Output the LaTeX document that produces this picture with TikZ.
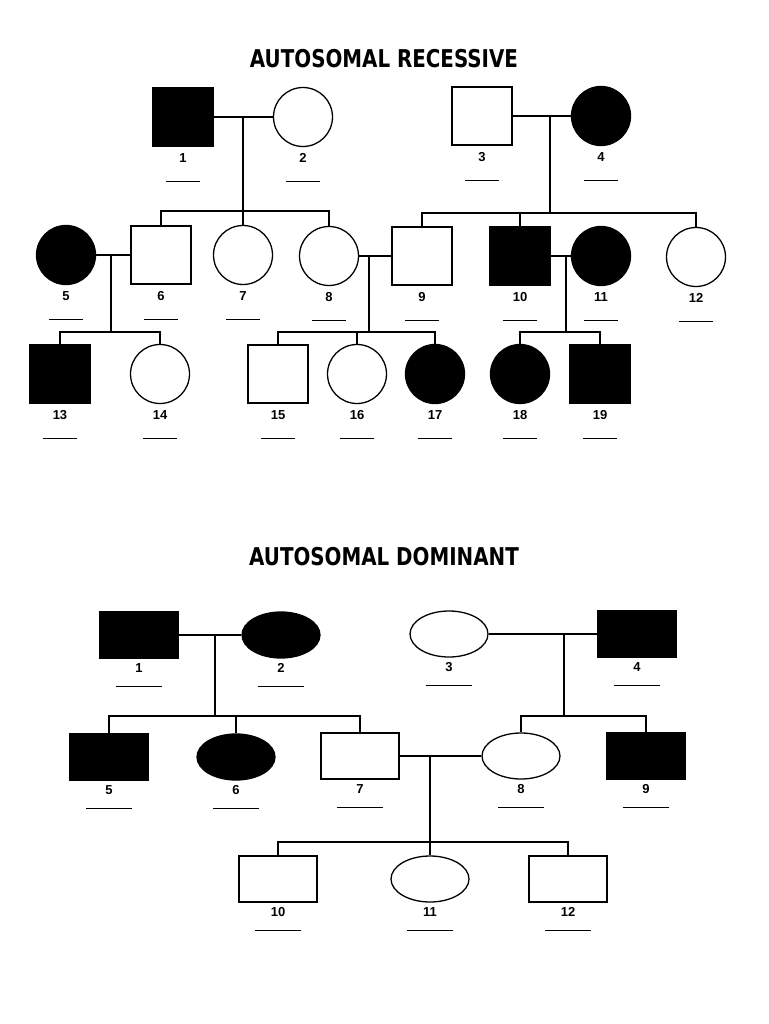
\documentclass[tikz,border=0pt]{standalone}
\usepackage{fontspec}
\setmainfont{Liberation Sans}
\newfontfamily\titlefont{DejaVu Sans}
\usetikzlibrary{shapes.geometric}

\begin{document}
\begin{tikzpicture}[
    x=1pt, y=-1pt,
    line width=1.3pt,
    every node/.style={text=black},
    male/.style={rectangle, draw, minimum width=60pt, minimum height=58pt, inner sep=0pt},
    female/.style={circle, draw, minimum size=59pt, inner sep=0pt},
    dmale/.style={rectangle, draw, minimum width=78pt, minimum height=46pt, inner sep=0pt},
    dfemale/.style={ellipse, draw, minimum width=78pt, minimum height=46pt, inner sep=0pt},
    num/.style={font=\bfseries\fontsize{13}{15}\selectfont, inner sep=0pt},
    blank/.style={line width=0.9pt},
    heading/.style={font=\titlefont\bfseries\fontsize{24.5}{28}\selectfont, xscale=0.81}
]
    \useasboundingbox (0,0) rectangle (768,1024);

    % ==========================
    % TOP: autosomal recessive
    % ==========================
    \node[heading] (titleR) at (384,59) {AUTOSOMAL RECESSIVE};

    \foreach \n/\px/\py/\sh/\fc in {
        1/183/117/male/black,
        2/303/117/female/white,
        3/482/116/male/white,
        4/601/116/female/black,
        5/66/255/female/black,
        6/161/255/male/white,
        7/243/255/female/white,
        8/329/256/female/white,
        9/422/256/male/white,
        10/520/256/male/black,
        11/601/256/female/black,
        12/696/257/female/white,
        13/60/374/male/black,
        14/160/374/female/white,
        15/278/374/male/white,
        16/357/374/female/white,
        17/435/374/female/black,
        18/520/374/female/black,
        19/600/374/male/black}
    {
        \node[\sh, fill=\fc] (R\n) at (\px,\py) {};
        \node[num] (RL\n) at ([yshift=-41pt]R\n.center) {\n};
        \draw[blank] ([xshift=-17pt,yshift=-23pt]RL\n.center) -- ++(34pt,0);
    }

    % couples and sibships
    \coordinate (mR12) at (243,117);
    \coordinate (sR12) at (243,211);
    \coordinate (mR34) at (550,116);
    \coordinate (sR34) at (550,213);
    \coordinate (mR56) at (111,255);
    \coordinate (sR56) at (111,332);
    \coordinate (mR89) at (369,256);
    \coordinate (sR89) at (369,332);
    \coordinate (mR1011) at (566,256);
    \coordinate (sR1011) at (566,332);

    \draw (R1) -- (R2);
    \draw (mR12) -- (sR12);
    \draw (R6.north) |- (sR12) -| (R8.north);
    \draw (R7.north) -- (R7.north |- sR12);

    \draw (R3) -- (R4);
    \draw (mR34) -- (sR34);
    \draw (R9.north) |- (sR34) -| (R12.north);
    \draw (R10.north) -- (R10.north |- sR34);

    \draw (R5) -- (R6);
    \draw (mR56) -- (sR56);
    \draw (R13.north) |- (sR56) -| (R14.north);

    \draw (R8) -- (R9);
    \draw (mR89) -- (sR89);
    \draw (R15.north) |- (sR89) -| (R17.north);
    \draw (R16.north) -- (R16.north |- sR89);

    \draw (R10) -- (R11);
    \draw (mR1011) -- (sR1011);
    \draw (R18.north) |- (sR1011) -| (R19.north);

    % ==========================
    % BOTTOM: autosomal dominant
    % ==========================
    \node[heading] (titleD) at (384,557) {AUTOSOMAL DOMINANT};

    \foreach \n/\px/\py/\sh/\fc in {
        1/139/635/dmale/black,
        2/281/635/dfemale/black,
        3/449/634/dfemale/white,
        4/637/634/dmale/black,
        5/109/757/dmale/black,
        6/236/757/dfemale/black,
        7/360/756/dmale/white,
        8/521/756/dfemale/white,
        9/646/756/dmale/black,
        10/278/879/dmale/white,
        11/430/879/dfemale/white,
        12/568/879/dmale/white}
    {
        \node[\sh, fill=\fc] (D\n) at (\px,\py) {};
        \node[num] (DL\n) at ([yshift=-33pt]D\n.center) {\n};
        \draw[blank] ([xshift=-23pt,yshift=-18pt]DL\n.center) -- ++(46pt,0);
    }

    \coordinate (mD12) at (215,635);
    \coordinate (sD12) at (215,716);
    \coordinate (mD34) at (564,634);
    \coordinate (sD34) at (564,716);
    \coordinate (mD78) at (430,756);
    \coordinate (sD78) at (430,842);

    \draw (D1) -- (D2);
    \draw (mD12) -- (sD12);
    \draw (D5.north) |- (sD12) -| (D7.north);
    \draw (D6.north) -- (D6.north |- sD12);

    \draw (D3) -- (D4);
    \draw (mD34) -- (sD34);
    \draw (D8.north) |- (sD34) -| (D9.north);

    \draw (D7) -- (D8);
    \draw (mD78) -- (sD78);
    \draw (D10.north) |- (sD78) -| (D12.north);
    \draw (D11.north) -- (D11.north |- sD78);

\end{tikzpicture}
\end{document}
